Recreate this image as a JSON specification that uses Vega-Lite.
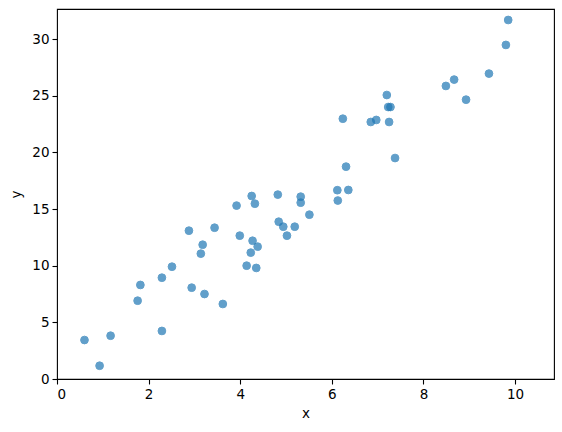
{
  "$schema": "https://vega.github.io/schema/vega-lite/v6.json",
  "autosize": "none",
  "width": 497,
  "height": 370,
  "padding": {"left": 57, "top": 9, "right": 8, "bottom": 53},
  "background": "white",
  "config": {
    "view": {"stroke": "black", "strokeWidth": 1.1},
    "axis": {
      "grid": false,
      "domain": false,
      "tickColor": "black",
      "tickSize": 5,
      "tickWidth": 1.1,
      "labelColor": "black",
      "labelFont": "DejaVu Sans",
      "labelFontSize": 13.5,
      "labelPadding": 3,
      "titleFont": "DejaVu Sans",
      "titleFontSize": 13.5,
      "titleFontWeight": "normal",
      "titleColor": "black"
    }
  },
  "data": {
    "values": [
      {"x": 0.60, "y": 3.44}, {"x": 0.93, "y": 1.17}, {"x": 1.17, "y": 3.82}, {"x": 1.76, "y": 6.91},
      {"x": 1.82, "y": 8.30}, {"x": 2.29, "y": 4.24}, {"x": 2.29, "y": 8.94}, {"x": 2.51, "y": 9.91},
      {"x": 2.88, "y": 13.09}, {"x": 2.94, "y": 8.06}, {"x": 3.14, "y": 11.06}, {"x": 3.18, "y": 11.85},
      {"x": 3.22, "y": 7.50}, {"x": 3.44, "y": 13.35}, {"x": 3.62, "y": 6.62}, {"x": 3.92, "y": 15.30},
      {"x": 3.99, "y": 12.65}, {"x": 4.14, "y": 10.00}, {"x": 4.23, "y": 11.15}, {"x": 4.25, "y": 16.15},
      {"x": 4.27, "y": 12.20}, {"x": 4.32, "y": 15.47}, {"x": 4.35, "y": 9.80}, {"x": 4.38, "y": 11.68},
      {"x": 4.82, "y": 16.27}, {"x": 4.84, "y": 13.88}, {"x": 4.94, "y": 13.44}, {"x": 5.02, "y": 12.65},
      {"x": 5.19, "y": 13.44}, {"x": 5.32, "y": 16.09}, {"x": 5.32, "y": 15.56}, {"x": 5.51, "y": 14.50},
      {"x": 6.12, "y": 16.66}, {"x": 6.36, "y": 16.68}, {"x": 6.13, "y": 15.75}, {"x": 6.31, "y": 18.74},
      {"x": 6.24, "y": 22.97}, {"x": 6.85, "y": 22.68}, {"x": 6.97, "y": 22.86}, {"x": 7.25, "y": 22.68},
      {"x": 7.38, "y": 19.50}, {"x": 7.20, "y": 25.06}, {"x": 7.23, "y": 24.00}, {"x": 7.28, "y": 24.00},
      {"x": 8.49, "y": 25.86}, {"x": 8.67, "y": 26.42}, {"x": 8.93, "y": 24.65}, {"x": 9.43, "y": 26.95},
      {"x": 9.80, "y": 29.48}, {"x": 9.85, "y": 31.68}
    ]
  },
  "mark": {"type": "circle", "size": 60, "color": "#1f77b4", "opacity": 0.7, "stroke": "#1f77b4", "strokeWidth": 1},
  "encoding": {
    "x": {
      "field": "x", "type": "quantitative", "title": "x",
      "scale": {"domain": [0, 10.85], "nice": false, "zero": false},
      "axis": {"values": [0, 2, 4, 6, 8, 10], "titlePadding": 6}
    },
    "y": {
      "field": "y", "type": "quantitative", "title": "y",
      "scale": {"domain": [0, 32.65], "nice": false, "zero": false},
      "axis": {"values": [0, 5, 10, 15, 20, 25, 30], "titlePadding": 8}
    }
  }
}
